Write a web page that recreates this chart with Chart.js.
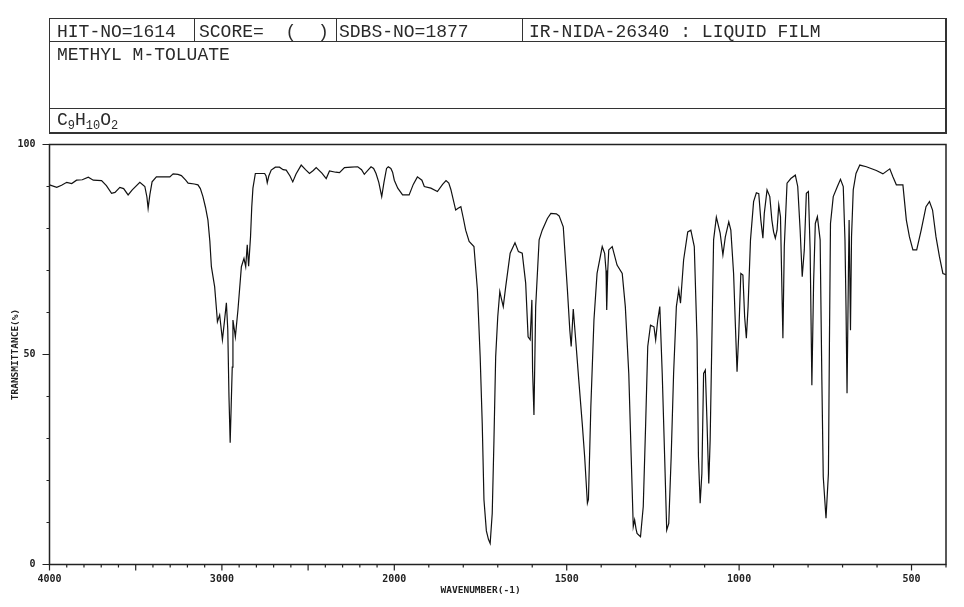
<!DOCTYPE html>
<html>
<head>
<meta charset="utf-8">
<script src="https://cdn.jsdelivr.net/npm/chart.js@4.4.1/dist/chart.umd.min.js"></script>
<style>
  body { margin: 0; background: #fff; }
  #wrap { position: relative; width: 964px; height: 607px; overflow: hidden; }
  #spectrum { position: absolute; left: 0; top: 0; }
  .ln { position: absolute; background: #333; }
  .txt { position: absolute; font-family: "Liberation Mono", monospace; font-size: 18px;
         line-height: 18px; color: #2a2a2a; white-space: pre; }
  .txt sub { font-size: 12px; vertical-align: -4px; line-height: 0; }
</style>
</head>
<body>
<div id="wrap">
  <canvas id="spectrum" width="964" height="607"></canvas>

  <!-- header box -->
  <div class="ln" style="left:48.5px;top:17.5px;width:898px;height:1.5px"></div>
  <div class="ln" style="left:48.5px;top:40.5px;width:898px;height:1.5px"></div>
  <div class="ln" style="left:48.5px;top:107.5px;width:898px;height:1.5px"></div>
  <div class="ln" style="left:48.5px;top:132px;width:898px;height:1.5px"></div>
  <div class="ln" style="left:48.5px;top:17.5px;width:1.5px;height:116px"></div>
  <div class="ln" style="left:945px;top:17.5px;width:1.5px;height:116px"></div>
  <div class="ln" style="left:193.5px;top:17.5px;width:1.5px;height:24px"></div>
  <div class="ln" style="left:335.5px;top:17.5px;width:1.5px;height:24px"></div>
  <div class="ln" style="left:521.5px;top:17.5px;width:1.5px;height:24px"></div>

  <div class="txt" style="left:57px;top:23px">HIT-NO=1614</div>
  <div class="txt" style="left:199px;top:23px">SCORE=  (</div>
  <div class="txt" style="left:318px;top:23px">)</div>
  <div class="txt" style="left:339px;top:23px">SDBS-NO=1877</div>
  <div class="txt" style="left:529px;top:23px">IR-NIDA-26340 : LIQUID FILM</div>
  <div class="txt" style="left:57px;top:46px">METHYL M-TOLUATE</div>
  <div class="txt" style="left:57px;top:111px">C<sub>9</sub>H<sub>10</sub>O<sub>2</sub></div>
</div>

<script>
// spectrum: wavenumber (cm-1) and transmittance (%)
const wavenumber = [
  4000, 3958, 3930, 3900, 3871, 3843, 3810, 3775, 3746, 3698, 3670, 3640, 3620, 3592, 3570, 3544,
  3520, 3476, 3447, 3435, 3428, 3418, 3405, 3380, 3302, 3283, 3255, 3235, 3210, 3196, 3160, 3139,
  3125, 3110, 3095, 3081, 3070, 3061, 3042, 3030, 3026, 3013, 2997, 2985, 2974, 2966, 2959, 2952,
  2946, 2940, 2936, 2928, 2922, 2907, 2887, 2872, 2862, 2853, 2845, 2834, 2827, 2820, 2806, 2752,
  2744, 2737, 2728, 2714, 2690, 2666, 2645, 2627, 2605, 2589, 2570, 2540, 2515, 2492, 2470, 2453,
  2420, 2395, 2376, 2340, 2318, 2289, 2250, 2212, 2190, 2174, 2150, 2135, 2120, 2106, 2090, 2073,
  2060, 2045, 2035, 2020, 2010, 2000, 1990, 1976, 1957, 1945, 1933, 1920, 1913, 1894, 1875, 1860,
  1850, 1842, 1836, 1822, 1815, 1807, 1800, 1793, 1783, 1769, 1759, 1751, 1745, 1740, 1733, 1727,
  1722, 1716, 1711, 1706, 1700, 1694, 1690, 1684, 1677, 1664, 1650, 1640, 1629, 1619, 1612, 1606,
  1601, 1599, 1595, 1590, 1580, 1571, 1556, 1546, 1530, 1522, 1510, 1498, 1491, 1487, 1481, 1474,
  1465, 1455, 1448, 1440, 1437, 1430, 1421, 1412, 1397, 1390, 1386, 1384, 1381, 1378, 1368, 1354,
  1339, 1330, 1320, 1313, 1307, 1303, 1299, 1296, 1286, 1278, 1271, 1265, 1257, 1247, 1242, 1236,
  1230, 1223, 1216, 1210, 1204, 1197, 1190, 1182, 1175, 1170, 1161, 1149, 1140, 1130, 1122, 1118,
  1113, 1108, 1103, 1098, 1093, 1088, 1084, 1079, 1074, 1066, 1055, 1047, 1040, 1030, 1024, 1016,
  1011, 1006, 1001, 995, 989, 984, 979, 974, 967, 958, 950, 943, 937, 931, 927, 919,
  911, 905, 900, 895, 890, 885, 880, 876, 873, 869, 861, 850, 837, 830, 823, 817,
  811, 805, 799, 794, 789, 784, 779, 773, 765, 760, 756, 748, 741, 738, 735, 727,
  715, 706, 698, 693, 690, 687, 683, 681, 677, 674, 669, 661, 650, 631, 602, 583,
  563, 554, 544, 525, 515, 506, 496, 485, 472, 458, 448, 439, 429, 419, 409, 400
];
const transmittance = [
  90.4, 89.8, 90.3, 91.0, 90.7, 91.5, 91.6, 92.2, 91.5, 91.4, 90.2, 88.4, 88.6, 89.8, 89.5, 88.0,
  89.2, 91.0, 90.0, 87.5, 84.8, 88.0, 91.1, 92.3, 92.3, 93.0, 92.9, 92.6, 91.5, 90.8, 90.6, 90.4,
  89.5, 87.6, 85.0, 82.0, 77.0, 70.9, 66.1, 60.0, 57.8, 59.4, 53.5, 58.0, 62.3, 56.0, 40.0, 29.0,
  38.0, 47.0, 58.2, 56.0, 54.2, 60.6, 70.9, 72.9, 70.9, 76.1, 71.0, 78.0, 85.0, 89.6, 93.1, 93.1,
  92.5, 90.9, 92.5, 93.9, 94.6, 94.6, 94.0, 93.9, 92.5, 91.1, 93.0, 95.1, 94.0, 93.1, 93.8, 94.5,
  93.2, 91.9, 93.7, 93.4, 93.3, 94.5, 94.6, 94.7, 94.0, 92.9, 94.0, 94.7, 94.3, 93.1, 91.0, 87.6,
  91.0, 94.3, 94.7, 94.3, 93.4, 91.5, 89.6, 88.0, 88.0, 90.5, 92.3, 91.5, 90.0, 89.6, 88.8, 90.5,
  91.4, 90.8, 89.3, 84.4, 84.8, 85.2, 82.5, 79.6, 76.9, 75.7, 65.4, 49.5, 33.6, 15.4, 8.0, 6.0,
  5.0, 12.2, 29.6, 49.5, 59.0, 65.0, 63.5, 61.4, 66.1, 74.1, 76.6, 74.5, 74.1, 67.0, 54.2, 53.5,
  63.0, 46.3, 35.6, 61.4, 77.3, 79.6, 82.4, 83.6, 83.5, 83.0, 80.4, 65.4, 55.8, 51.9, 60.8, 53.5,
  43.9, 33.6, 25.7, 14.6, 15.5, 37.6, 58.2, 69.3, 75.7, 74.1, 70.0, 60.6, 70.0, 74.9, 75.7, 71.3,
  69.3, 61.4, 45.5, 25.7, 9.0, 10.6, 8.5, 7.4, 6.6, 13.8, 33.6, 51.9, 57.0, 56.6, 53.5, 58.2,
  61.4, 45.5, 25.7, 8.2, 9.8, 25.7, 45.5, 61.4, 65.4, 62.2, 72.5, 79.2, 79.6, 75.7, 53.5, 25.7,
  14.6, 21.7, 45.5, 46.3, 33.6, 19.3, 29.6, 53.5, 77.3, 82.7, 78.9, 73.7, 78.0, 81.6, 79.6, 69.3,
  57.4, 45.9, 55.0, 69.3, 68.9, 59.0, 53.9, 61.4, 77.3, 86.4, 88.5, 88.3, 82.0, 77.7, 83.6, 89.2,
  87.6, 82.0, 79.2, 77.7, 79.6, 85.6, 82.8, 66.1, 53.9, 75.7, 90.8, 91.9, 92.7, 90.0, 79.6, 68.5,
  74.9, 88.4, 88.8, 74.9, 42.7, 67.0, 81.2, 82.8, 77.3, 43.9, 20.9, 11.0, 21.7, 53.5, 81.2, 87.6,
  90.0, 91.7, 90.0, 77.3, 61.4, 40.8, 69.3, 82.0, 55.8, 78.0, 89.2, 93.1, 95.1, 94.7, 93.8, 93.0,
  94.2, 92.3, 90.4, 90.4, 82.0, 78.0, 74.9, 74.9, 79.6, 85.2, 86.4, 84.4, 78.0, 73.3, 69.3, 69.0
];

const xTickLabels = [4000, 3000, 2000, 1500, 1000, 500];
const yTickLabels = [0, 50, 100];
const xMinorStep = 100, xMajorStep = 500;
const yMinorStep = 10, yMajorStep = 50;

// the chart is drawn at half scale above 2000 cm-1
function toAxis(w) { return w >= 2000 ? 2000 + (w - 2000) / 2 : w; }
function fromAxis(u) { return u >= 2000 ? 2000 + (u - 2000) * 2 : u; }

const points = wavenumber.map((w, i) => ({ x: toAxis(w), y: transmittance[i] }));

const labelFont = { family: 'DejaVu Sans Mono', size: 10, weight: 'bold' };
const titleFont = { family: 'DejaVu Sans Mono', size: 9.5, weight: 'bold' };

// frame round the plot and the small tick marks
const frameTicks = {
  id: 'frameTicks',
  afterDraw(chart) {
    const { ctx, chartArea: a, scales: { x, y } } = chart;
    ctx.save();
    ctx.strokeStyle = '#222';
    ctx.lineWidth = 1.5;
    ctx.strokeRect(a.left, a.top, a.right - a.left, a.bottom - a.top);
    ctx.lineWidth = 1.2;
    ctx.beginPath();
    for (let w = 4000; w >= 400; w -= xMinorStep) {
      const px = x.getPixelForValue(toAxis(w));
      const len = w % xMajorStep === 0 ? 6 : 3;
      ctx.moveTo(px, a.bottom);
      ctx.lineTo(px, a.bottom + len);
    }
    for (let t = 0; t <= 100; t += yMinorStep) {
      const py = y.getPixelForValue(t);
      const len = t % yMajorStep === 0 ? 7 : 3;
      ctx.moveTo(a.left, py);
      ctx.lineTo(a.left - len, py);
    }
    ctx.stroke();
    ctx.restore();
  }
};

new Chart(document.getElementById('spectrum'), {
  type: 'line',
  data: {
    datasets: [{
      data: points,
      borderColor: '#111',
      borderWidth: 1.2,
      pointRadius: 0,
      tension: 0,
      fill: false
    }]
  },
  options: {
    responsive: false,
    animation: false,
    devicePixelRatio: 1,
    layout: { padding: { left: 0, top: 144.5, right: 18, bottom: 0 } },
    plugins: { legend: { display: false }, tooltip: { enabled: false } },
    scales: {
      x: {
        type: 'linear',
        min: 400,
        max: 3000,
        reverse: true,
        afterFit: s => { s.height = 42.5; },
        afterBuildTicks: s => { s.ticks = xTickLabels.map(w => ({ value: toAxis(w) })); },
        grid: { display: false, drawTicks: false },
        border: { display: false },
        ticks: {
          autoSkip: false, maxRotation: 0, padding: 9,
          color: '#222', font: labelFont,
          callback: v => String(Math.round(fromAxis(v)))
        },
        title: {
          display: true, text: 'WAVENUMBER(-1)      ', color: '#222', font: titleFont,
          padding: { top: 0, bottom: 11 }
        }
      },
      y: {
        min: 0,
        max: 100,
        afterFit: s => { s.width = 49.5; },
        afterBuildTicks: s => { s.ticks = yTickLabels.map(v => ({ value: v })); },
        grid: { display: false, drawTicks: false },
        border: { display: false },
        ticks: { padding: 14, color: '#222', font: labelFont },
        title: {
          display: true, text: 'TRANSMITTANCE(%)', color: '#222', font: titleFont,
          padding: { top: 10, bottom: 0 }
        }
      }
    }
  },
  plugins: [frameTicks]
});
</script>
</body>
</html>
